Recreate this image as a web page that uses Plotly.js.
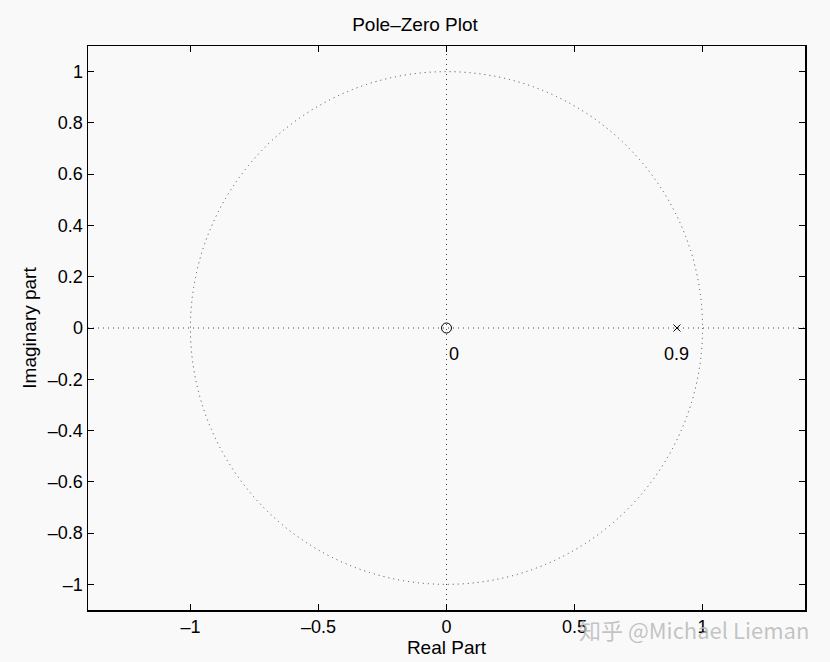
<!DOCTYPE html>
<html>
<head>
<meta charset="utf-8">
<script src="https://cdn.plot.ly/plotly-3.0.1.min.js"></script>
<style>html,body{margin:0;padding:0;background:#f9f9f9;}</style>
</head>
<body>
<div id="chart" style="width:830px;height:662px;"></div>
<script>
// Data
const zerosRe = [0];
const zerosIm = [0];
const polesRe = [0.9];
const polesIm = [0];
const zeroLabels = ["0"];
const poleLabels = ["0.9"];
const xTickVals = [-1, -0.5, 0, 0.5, 1];
const xTickText = ["\u20131", "\u20130.5", "0", "0.5", "1"];
const yTickVals = [-1, -0.8, -0.6, -0.4, -0.2, 0, 0.2, 0.4, 0.6, 0.8, 1];
const yTickText = ["\u20131", "\u20130.8", "\u20130.6", "\u20130.4", "\u20130.2", "0", "0.2", "0.4", "0.6", "0.8", "1"];
const xRange = [-1.4, 1.4];
const yRange = [-1.1, 1.1];

const font = "Liberation Sans, Arial, sans-serif";

const traces = [
  {x: zerosRe, y: zerosIm, mode: "markers", type: "scatter",
   marker: {symbol: "circle-open", size: 10, color: "#000", line: {width: 1, color: "#000"}},
   hoverinfo: "skip", showlegend: false},
  {x: polesRe, y: polesIm, mode: "markers", type: "scatter",
   marker: {symbol: "x-thin-open", size: 7, color: "#000", line: {width: 1, color: "#000"}},
   hoverinfo: "skip", showlegend: false}
];

const L = 88, R = 25, T = 46, B = 52, W = 830, H = 662;
const pw = W - L - R, ph = H - T - B;

const annotations = [];
zerosRe.forEach((v, i) => annotations.push({x: v, y: zerosIm[i], xref: "x", yref: "y", text: zeroLabels[i],
  showarrow: false, xanchor: "left", yanchor: "middle", xshift: 0, yshift: -26, font: {family: font, size: 18, color: "#000"}}));
polesRe.forEach((v, i) => annotations.push({x: v, y: polesIm[i], xref: "x", yref: "y", text: poleLabels[i],
  showarrow: false, xanchor: "center", yanchor: "middle", yshift: -26, font: {family: font, size: 18, color: "#000"}}));
annotations.push({x: (694 - L) / pw, y: (H - B - 629) / ph, xref: "paper", yref: "paper", text: "知乎 @Michael Lieman", showarrow: false,
  xanchor: "center", yanchor: "middle", font: {family: "Noto Sans CJK SC, sans-serif", size: 22, color: "rgba(185,185,185,0.85)"}});

const dotLine = {color: "#444", width: 1, dash: "1px,4px"};
const layout = {
  width: W, height: H,
  margin: {l: L, r: R, t: T, b: B},
  paper_bgcolor: "#f9f9f9", plot_bgcolor: "#f9f9f9",
  title: {text: "Pole\u2013Zero Plot", font: {family: font, size: 19, color: "#000"}, x: 0.5, xanchor: "center", y: (H - 24) / H, yanchor: "middle"},
  xaxis: {range: xRange, tickvals: xTickVals, ticktext: xTickText, ticks: "inside", ticklen: 6, tickcolor: "#000",
    showline: true, linecolor: "#000", linewidth: 1.5, mirror: "ticks", showgrid: false, zeroline: false,
    tickfont: {family: font, size: 18, color: "#000"},
    title: {text: "Real Part", font: {family: font, size: 19, color: "#000"}, standoff: 2}},
  yaxis: {range: yRange, tickvals: yTickVals, ticktext: yTickText, ticks: "inside", ticklen: 6, tickcolor: "#000",
    showline: true, linecolor: "#000", linewidth: 1.5, mirror: "ticks", showgrid: false, zeroline: false,
    tickfont: {family: font, size: 18, color: "#000"},
    title: {text: "Imaginary part", font: {family: font, size: 19, color: "#000"}, standoff: 6}},
  shapes: [
    {type: "circle", xref: "x", yref: "y", x0: -1, y0: -1, x1: 1, y1: 1, line: dotLine, layer: "below"},
    {type: "line", xref: "x", yref: "y", x0: xRange[0], y0: 0, x1: xRange[1], y1: 0, line: dotLine, layer: "below"},
    {type: "line", xref: "x", yref: "y", x0: 0, y0: yRange[0], x1: 0, y1: yRange[1], line: dotLine, layer: "below"}
  ],
  annotations: annotations,
  showlegend: false
};

Plotly.newPlot("chart", traces, layout, {displayModeBar: false, staticPlot: true});
</script>
</body>
</html>
